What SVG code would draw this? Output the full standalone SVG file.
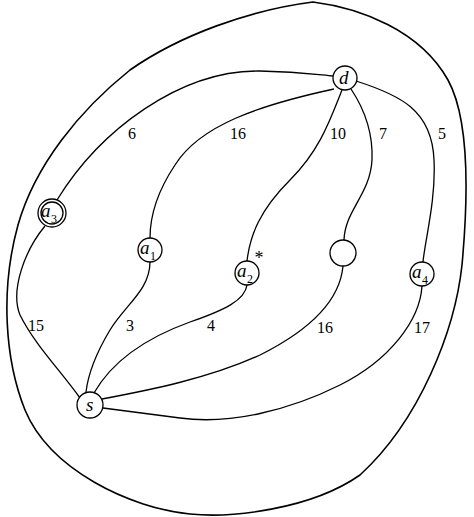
<svg xmlns="http://www.w3.org/2000/svg" width="474" height="517" viewBox="0 0 474 517">
<style>
.e{fill:none;stroke:#000;stroke-width:1.3}
.o{fill:none;stroke:#000;stroke-width:1.6}
.n{fill:#fff;stroke:#000;stroke-width:1.3}
.t{font-family:"Liberation Serif",serif;font-size:16px;fill:#000;text-anchor:middle}
.v{font-family:"Liberation Serif",serif;font-style:italic;font-size:19px;fill:#000}
.s{font-family:"Liberation Serif",serif;font-size:12px;fill:#000}
</style>
<rect width="474" height="517" fill="#fff"/>
<path class="o" d="M 313 2 C 360 8, 420 30, 448 80 C 470 120, 468 200, 462 265 C 455 330, 420 420, 360 475 C 310 510, 230 518, 190 514 C 130 508, 50 470, 25 410 C 5 360, 0 290, 18 225 C 35 165, 80 110, 130 70 C 180 35, 250 10, 313 2 Z"/>
<g id="edges">
<path class="e" d="M 57 200 C 100 130, 180 70, 260 71 C 300 72, 320 75, 333 76"/>
<path class="e" d="M 334 89 C 260 105, 200 125, 175 165 C 155 195, 150 220, 150 238"/>
<path class="e" d="M 342 90 C 330 120, 320 150, 290 180 C 260 210, 250 235, 247 261"/>
<path class="e" d="M 351 89 C 365 110, 373 135, 372 160 C 370 195, 345 210, 344 240"/>
<path class="e" d="M 356 81 C 400 95, 432 110, 434 160 C 436 200, 425 240, 423 262"/>
<path class="e" d="M 45 226 C 25 250, 10 290, 20 315 C 35 345, 60 370, 80 398"/>
<path class="e" d="M 150 262 C 150 290, 125 305, 110 330 C 95 355, 88 375, 86 392"/>
<path class="e" d="M 247 285 C 245 300, 225 310, 190 322 C 140 340, 110 365, 94 393"/>
<path class="e" d="M 343 266 C 340 300, 310 330, 260 355 C 210 378, 150 390, 102 399"/>
<path class="e" d="M 422 286 C 420 320, 390 360, 340 385 C 290 410, 230 425, 180 418 C 150 414, 120 410, 103 408"/>
<text class="t" x="132" y="139">6</text>
<text class="t" x="238" y="139">16</text>
<text class="t" x="338" y="139">10</text>
<text class="t" x="383" y="139">7</text>
<text class="t" x="442" y="139">5</text>
<text class="t" x="36" y="331">15</text>
<text class="t" x="130" y="331">3</text>
<text class="t" x="211" y="331">4</text>
<text class="t" x="325" y="333">16</text>
<text class="t" x="422" y="333">17</text>
</g>
<g id="d"><circle class="n" cx="345" cy="78" r="12"/><text class="v" x="339" y="84">d</text></g>
<g id="a3"><circle class="n" cx="52" cy="213" r="14"/><circle class="n" cx="52" cy="213" r="11"/><text class="v" x="41" y="217">a</text><text class="s" x="51" y="223">3</text></g>
<g id="a1"><circle class="n" cx="150" cy="250" r="12"/><text class="v" x="140" y="254">a</text><text class="s" x="150" y="260">1</text></g>
<g id="a2"><circle class="n" cx="247" cy="273" r="12"/><text class="v" x="237" y="277">a</text><text class="s" x="247" y="283">2</text><text class="t" x="259" y="264" style="font-size:18px">*</text></g>
<g id="x"><circle class="n" cx="343" cy="253" r="13"/></g>
<g id="a4"><circle class="n" cx="422" cy="274" r="12"/><text class="v" x="412" y="278">a</text><text class="s" x="422" y="284">4</text></g>
<g id="s"><circle class="n" cx="90" cy="405" r="13"/><text class="v" x="86" y="411">s</text></g>
</svg>
